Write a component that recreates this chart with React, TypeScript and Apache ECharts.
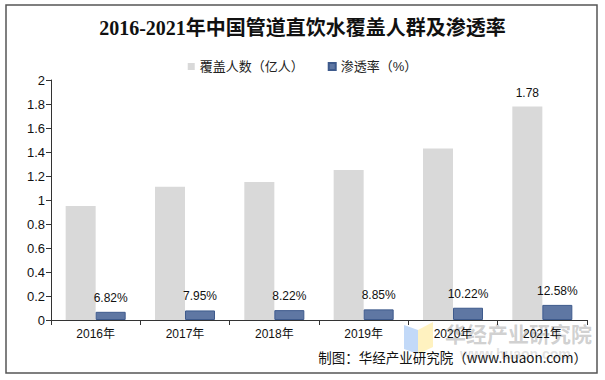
import React, { useEffect, useRef } from "react";
import * as echarts from "echarts";

const categories = ["2016年", "2017年", "2018年", "2019年", "2020年", "2021年"];
const coverage = [0.95, 1.11, 1.15, 1.25, 1.43, 1.78];
const penetration = [6.82, 7.95, 8.22, 8.85, 10.22, 12.58];
const yTicks = { min: 0, max: 2, interval: 0.2 };

export default function App() {
  const ref = useRef<HTMLDivElement>(null);
  useEffect(() => {
    document.body.style.margin = "0";
    const chart = echarts.init(ref.current!, undefined, { renderer: "svg" });
    const sans = "Arial, 'Liberation Sans', 'Noto Sans CJK SC', sans-serif";
    chart.setOption({
      animation: false,
      backgroundColor: "#fff",
      title: {
        text: "2016-2021年中国管道直饮水覆盖人群及渗透率",
        left: "center",
        top: 13,
        textStyle: {
          fontFamily: "'Liberation Serif', 'Noto Sans CJK SC', serif",
          fontSize: 20,
          fontWeight: "bold",
          color: "#111",
        },
      },
      legend: {
        top: 55,
        left: "center",
        itemWidth: 7,
        itemHeight: 7,
        itemGap: 24,
        icon: "rect",
        textStyle: { fontFamily: sans, fontSize: 13, color: "#222" },
        data: ["覆盖人数（亿人）", "渗透率（%）"],
      },
      grid: { left: 51, right: 18, top: 80, bottom: 60, containLabel: false },
      xAxis: {
        type: "category",
        data: categories,
        axisLine: { lineStyle: { color: "#333" } },
        axisTick: { show: true, alignWithLabel: false, lineStyle: { color: "#333" } },
        axisLabel: { fontFamily: sans, fontSize: 12, color: "#111", margin: 8 },
      },
      yAxis: {
        type: "value",
        min: yTicks.min,
        max: yTicks.max,
        interval: yTicks.interval,
        splitLine: { show: false },
        axisLine: { show: true, lineStyle: { color: "#333" } },
        axisTick: { show: true, lineStyle: { color: "#333" } },
        axisLabel: {
          fontFamily: sans,
          fontSize: 13,
          color: "#111",
          margin: 6,
          formatter: (v: number) => String(Math.round(v * 10) / 10),
        },
      },
      series: [
        {
          name: "覆盖人数（亿人）",
          type: "bar",
          data: coverage.map((v, i) =>
            i === coverage.length - 1
              ? { value: v, label: { show: true } }
              : { value: v }
          ),
          barWidth: 30,
          barGap: "0%",
          itemStyle: { color: "#d9d9d9" },
          label: {
            show: false,
            position: "top",
            distance: 7,
            fontFamily: sans,
            fontSize: 12,
            color: "#111",
          },
        },
        {
          name: "渗透率（%）",
          type: "bar",
          data: penetration.map((v) => v / 100),
          barWidth: 30,
          barGap: "0%",
          itemStyle: { color: "#5f77a3", borderColor: "#3e5a8c", borderWidth: 1 },
          label: {
            show: true,
            position: "top",
            distance: 8,
            fontFamily: sans,
            fontSize: 12,
            color: "#111",
            formatter: (p: any) => penetration[p.dataIndex].toFixed(2) + "%",
          },
        },
      ],
      graphic: [
        {
          type: "rect",
          shape: { x: 6, y: 5, width: 591, height: 368 },
          style: { fill: "none", stroke: "#555", lineWidth: 1.5 },
          silent: true,
        },
        {
          type: "polygon",
          shape: { points: [[404, 325], [418, 330], [418, 354], [404, 349]] },
          style: { fill: "rgba(120,170,240,0.45)" },
          silent: true,
        },
        {
          type: "polygon",
          shape: { points: [[418, 330], [433, 322], [433, 347], [418, 354]] },
          style: { fill: "rgba(255,230,130,0.5)" },
          silent: true,
        },
        {
          type: "text",
          x: 445,
          y: 333,
          style: {
            text: "华经产业研究院",
            font: "bold 21px 'Noto Sans CJK SC', sans-serif",
            fill: "rgba(150,150,150,0.45)",
            textVerticalAlign: "middle",
          },
          silent: true,
        },
        {
          type: "text",
          x: 460,
          y: 354,
          style: {
            text: "www.huaon.com",
            font: "bold 14px Arial, sans-serif",
            fill: "rgba(170,170,170,0.35)",
            textVerticalAlign: "middle",
          },
          silent: true,
        },
        {
          type: "text",
          right: 18,
          y: 350,
          style: {
            text: "制图：华经产业研究院（www.huaon.com）",
            font: "13.5px 'Noto Sans CJK SC', sans-serif",
            fill: "#111",
          },
          silent: true,
        },
      ],
    });
    return () => chart.dispose();
  }, []);
  return <div ref={ref} style={{ width: 605, height: 380 }} />;
}
